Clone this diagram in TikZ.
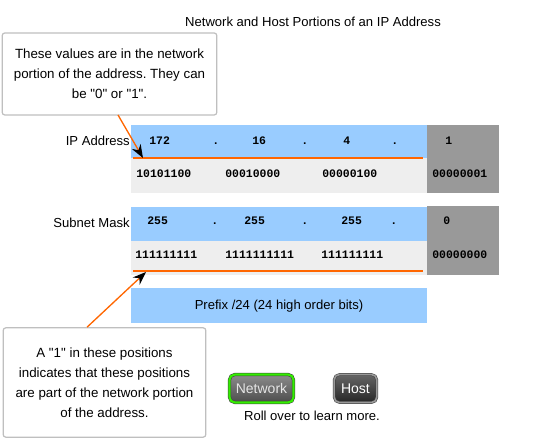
\documentclass[tikz,border=0pt]{standalone}
\usepackage{fontspec}
\setmainfont{Liberation Sans}[Ligatures=TeXOff]
\setmonofont{Liberation Mono}
\usetikzlibrary{positioning,calc,arrows.meta,shadows}
\frenchspacing

\definecolor{rowblue}{HTML}{99CCFF}
\definecolor{rowgray}{HTML}{EEEEEE}
\definecolor{hostgray}{HTML}{999999}
\definecolor{callorange}{HTML}{FF6600}
\definecolor{btngreen}{HTML}{33EE00}

\tikzset{
    bits/.style={font=\ttfamily\bfseries\fontsize{8.6}{10}\selectfont, anchor=base west, inner sep=0pt},
    label/.style={anchor=base east, inner sep=0pt},
    callout/.style={draw=black!25, line width=0.9pt, rounded corners=2pt, fill=white,
        align=center, font=\fontsize{10}{15}\selectfont},
    pointer/.style={draw=callorange, line width=1pt, -{Stealth[black, length=10pt, width=7.5pt]}},
    underline/.style={draw=callorange, line width=1.4pt},
    button/.style={rounded corners=4pt, minimum height=21pt, drop shadow={opacity=0.35, shadow xshift=0.8pt, shadow yshift=-0.8pt}}
}

\begin{document}
\begin{tikzpicture}[x=0.75pt, y=-0.75pt, font=\fontsize{9.8}{11.5}\selectfont]
    \useasboundingbox (0,0) rectangle (537,448);

    \node (title) at (313,22) {Network and Host Portions of an IP Address};

    % IP address rows
    \fill[rowblue] (131,125) rectangle (427,158);
    \fill[rowgray] (131,158) rectangle (427,193);
    \fill[hostgray] (427,125) rectangle (499,193);
    \draw[underline] (133,158) -- (423,158);
    \node[label] (iplabel) at (130,146) {IP Address};
    \node[bits] (ip1) at (149,145) {172};
    \node[bits] (ipd1) at (212,145) {.};
    \node[bits] (ip2) at (252,145) {16};
    \node[bits] (ipd2) at (301,145) {.};
    \node[bits] (ip3) at (343,145) {4};
    \node[bits] (ipd3) at (391,145) {.};
    \node[bits] (ip4) at (445,145) {1};
    \node[bits] (ipb1) at (136,178) {10101100};
    \node[bits] (ipb2) at (225,178) {00010000};
    \node[bits] (ipb3) at (322,178) {00000100};
    \node[bits] (ipb4) at (432,178) {00000001};

    % subnet mask rows
    \fill[rowblue] (131,207) rectangle (427,241);
    \fill[rowgray] (131,241) rectangle (427,275);
    \fill[hostgray] (427,206) rectangle (499,275);
    \draw[underline] (133,271) -- (423,271);
    \node[label] (masklabel) at (130,228) {Subnet Mask};
    \node[bits] (m1) at (147,225) {255};
    \node[bits] (md1) at (211,225) {.};
    \node[bits] (m2) at (244,225) {255};
    \node[bits] (md2) at (301,225) {.};
    \node[bits] (m3) at (341,225) {255};
    \node[bits] (md3) at (390,225) {.};
    \node[bits] (m4) at (443,225) {0};
    \node[bits] (mb1) at (135,259) {111111111};
    \node[bits] (mb2) at (225,259) {1111111111};
    \node[bits] (mb3) at (321,259) {111111111};
    \node[bits] (mb4) at (432,259) {00000000};

    % prefix bar
    \fill[rowblue] (131,288) rectangle (427,323);
    \node (prefix) at (279,306) {Prefix /24 (24 high order bits)};

    % callouts
    \node[callout, minimum width=161pt, minimum height=61.5pt] (netnote) at (109.5,74)
        {These values are in the network\\portion of the address. They can\\be "0" or "1".};
    \coordinate (netend) at (143,158);
    \draw[pointer] (118,115) -- (netend);

    \node[callout, minimum width=152pt, minimum height=82pt] (masknote) at (104.5,382.5)
        {A "1" in these positions\\indicates that these positions\\are part of the network portion\\of the address.};
    \coordinate (maskend) at (146,272);
    \draw[pointer] (masknote.north -| 87,0) -- (maskend);

    % buttons
    \node[button, draw=black!75, double=btngreen, double distance=1.6pt,
        top color=black!45, bottom color=black!70, text=white!90!black,
        minimum width=48pt, font=\fontsize{10.5}{12}\selectfont] (network) at (261.5,388.5) {Network};
    \node[button, draw=black!75, double=black!40, double distance=1.2pt,
        top color=black!60, bottom color=black!85, text=white,
        minimum width=32pt, font=\fontsize{10.5}{12}\selectfont] (host) at (355.5,388.5) {Host};
    \node (rollover) at (312,416) {Roll over to learn more.};
\end{tikzpicture}
\end{document}
